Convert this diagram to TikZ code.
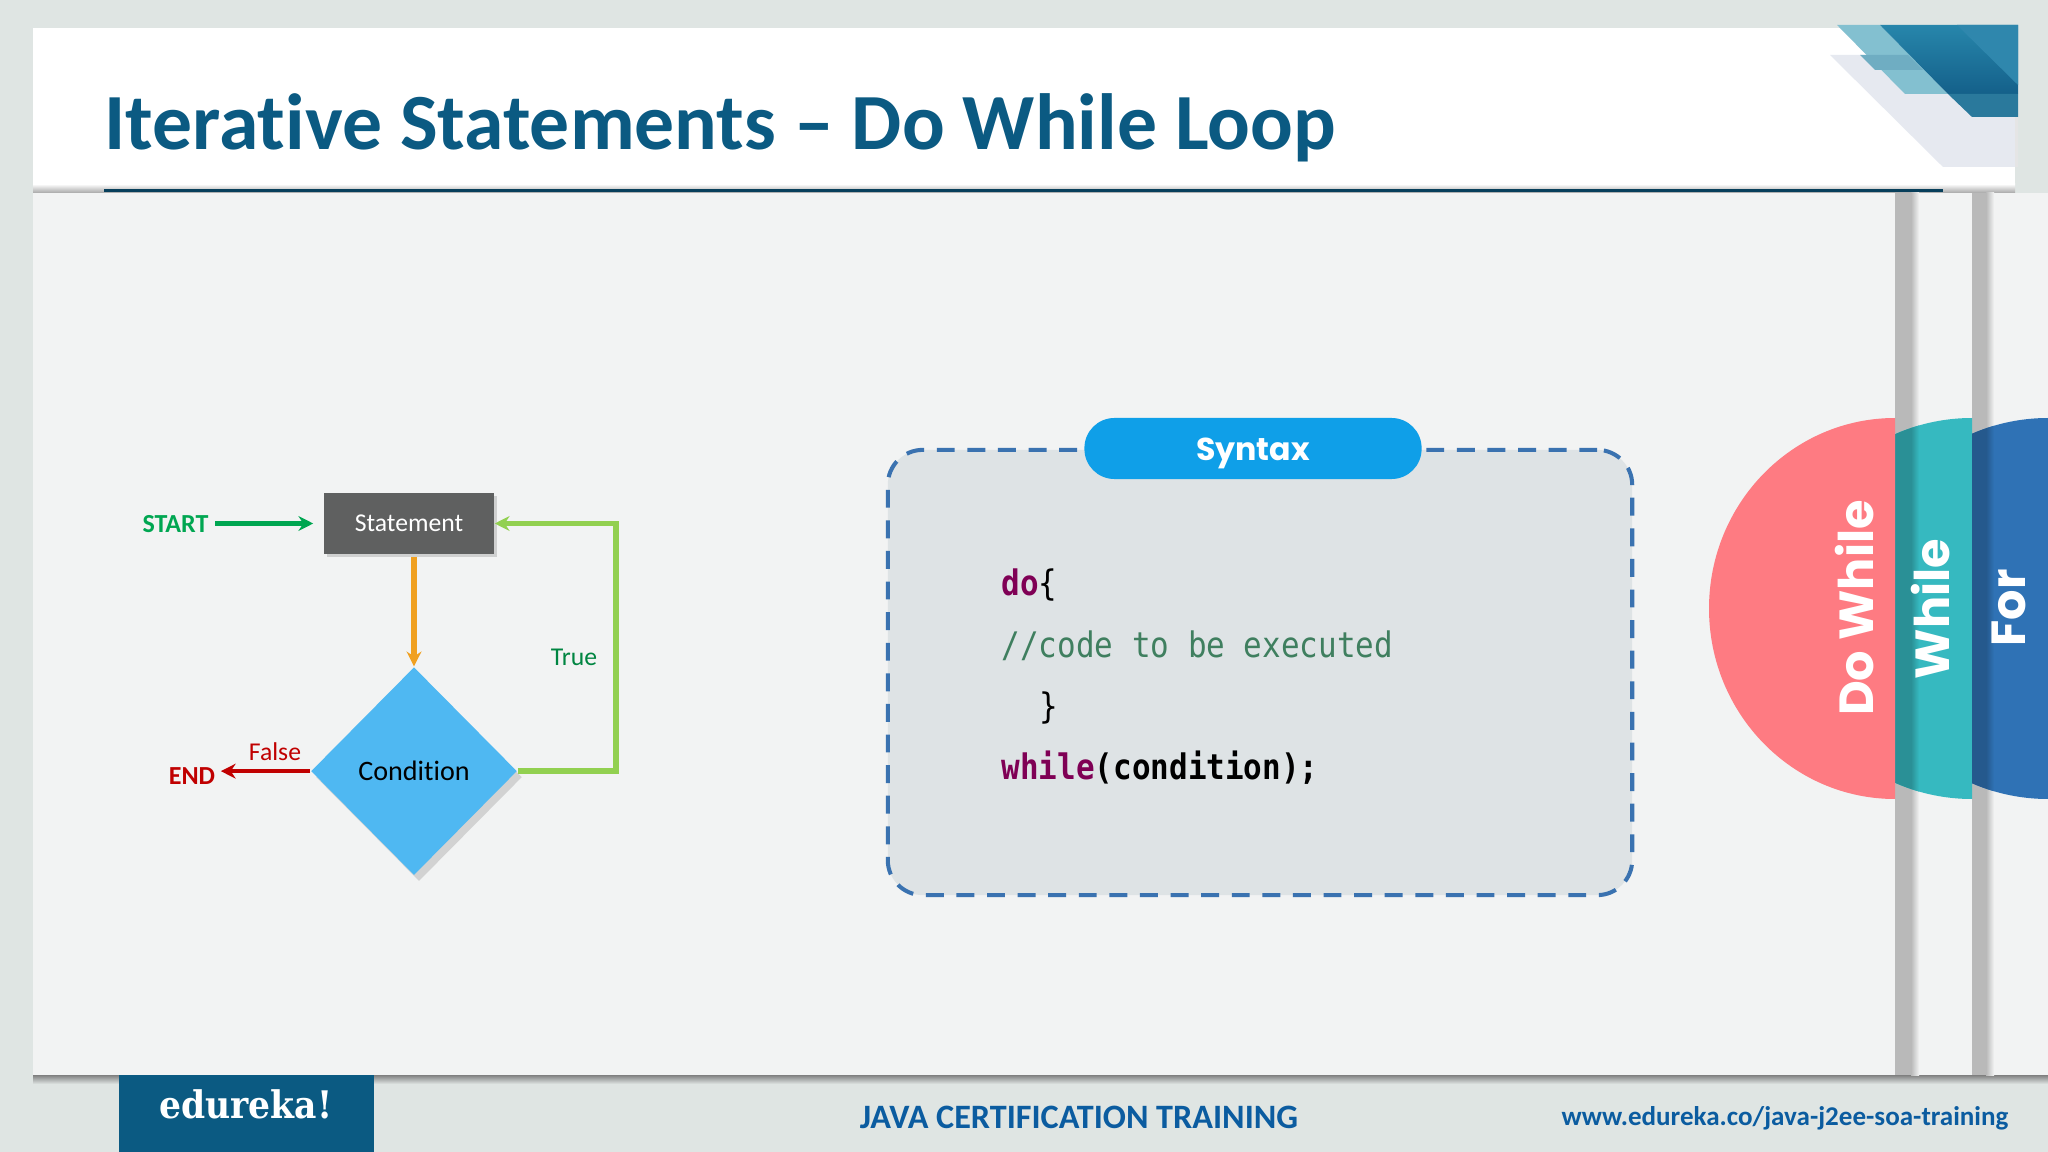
\documentclass[tikz,border=0pt]{standalone}
\usepackage{fontspec}
\setmainfont{Carlito}[Ligatures=NoCommon]
\newfontfamily\tabfont{Poppins}
\newfontfamily\codefont{DejaVu Sans Mono}[FakeStretch=0.88]
\newfontfamily\logofont{DejaVu Serif}[FakeStretch=0.91]
\usetikzlibrary{positioning}
\usetikzlibrary{shapes.geometric}
\usetikzlibrary{arrows.meta}
\usetikzlibrary{shadows}
\definecolor{pagebg}{HTML}{DFE5E3}
\definecolor{panelbg}{HTML}{F2F3F3}
\definecolor{titleblue}{HTML}{0B5A82}
\definecolor{startgreen}{HTML}{00A651}
\definecolor{truegreen}{HTML}{92D050}
\definecolor{endred}{HTML}{C00000}
\definecolor{loopblue}{HTML}{4FB8F2}
\definecolor{stmtgray}{HTML}{5F6060}
\definecolor{looporange}{HTML}{F0A020}
\definecolor{boxfill}{HTML}{DEE3E5}
\definecolor{boxdash}{HTML}{3A72B0}
\definecolor{pillblue}{HTML}{0F9FE8}
\definecolor{kwpurple}{HTML}{7F0055}
\definecolor{commentgreen}{HTML}{3F7F5F}
\definecolor{tabred}{HTML}{FE7B82}
\definecolor{tabteal}{HTML}{36B9C0}
\definecolor{tabblue}{HTML}{2F72B5}
\definecolor{footblue}{HTML}{0B5CA0}
\definecolor{bargray}{HTML}{B9B9B9}
\definecolor{cornergray}{HTML}{E6E9F0}
\definecolor{cornerlight}{HTML}{83C0D0}
\definecolor{cornermid}{HTML}{6FADC2}
\definecolor{cornerhigh}{HTML}{2786AB}
\definecolor{cornerlow}{HTML}{14608A}
\definecolor{cornerright}{HTML}{2F87AD}
\begin{document}
\begin{tikzpicture}[x=0.01cm,y=-0.01cm,>={Stealth[length=4.2pt,width=4.2pt]},node distance=2.475cm,
		line join=miter]
		\tikzstyle{flowarrow}=[->,line width=1.3pt]
		\tikzstyle{looparrow}=[->,line width=1.6pt]
		\tikzstyle{flowlabel}=[inner sep=0pt,font=\fontsize{7.3}{9}\selectfont]
		\tikzstyle{flowbold}=[inner sep=0pt,font=\fontsize{7.4}{9}\selectfont\bfseries]
		\tikzstyle{codeline}=[inner sep=0pt,anchor=base west,font=\fontsize{10}{12}\codefont]
		\tikzstyle{tablabel}=[inner sep=0pt,rotate=90,text=white,font=\fontsize{13.6}{16}\tabfont\bfseries]
		\tikzstyle{footlabel}=[inner sep=0pt,text=footblue,font=\fontsize{7.7}{10}\selectfont\bfseries]
		
		\useasboundingbox (0,0) rectangle (2048,1152);
		\fill[pagebg] (0,0) rectangle (2048,1152);
		\fill[white] (33,28) rectangle (2015,186);
		\shade[top color=white,bottom color=black!35] (33,184) rectangle (2015,193);
		\fill[panelbg] (33,193) rectangle (2048,1075);
		\shade[top color=black!50,bottom color=pagebg] (33,1075) rectangle (2048,1084);
		\fill[titleblue!70!black] (104,189.5) rectangle (1943,192.5);
		
		\fill[cornergray] (1830,55) -- (2018,55) -- (2018,167) -- (1943,167) -- cycle;
		\fill[black!10] (2015,117) rectangle (2018,167);
		\fill[cornerlight] (1837,25) -- (1880,25) -- (1948,94) -- (1905,94) -- cycle;
		\fill[cornermid] (1860,55) -- (1908,55) -- (1923,70) -- (1875,70) -- cycle;
		\shade[top color=cornerhigh,bottom color=cornerlow] (1880,25) -- (2018,25) -- (2018,94) -- (1948,94) -- cycle;
		\fill[cornerright] (1957,25) -- (2018,25) -- (2018,85) -- cycle;
		\fill[cornerright!90!black] (1948,94) -- (2018,94) -- (2018,117) -- (1972,117) -- cycle;
		
		\fill[bargray] (1895,193) rectangle (1911,1075);
		\shade[left color=bargray,right color=panelbg] (1911,193) rectangle (1919,1075);
		\fill[bargray] (1972,193) rectangle (1986,1075);
		\shade[left color=bargray,right color=panelbg] (1986,193) rectangle (1994,1075);
		
		\begin{scope}
			\clip (1895,193) rectangle (1972,1075);
			\fill[tabteal] (1972,608.5) circle (190.5);
			\clip (1972,608.5) circle (190.5);
			\fill[tabteal!78!black] (1895,410) rectangle (1911,810);
			\shade[left color=tabteal!78!black,right color=tabteal] (1911,410) rectangle (1919,810);
		\end{scope}
		\begin{scope}
			\clip (1972,193) rectangle (2048,1075);
			\fill[tabblue] (2048,608.5) circle (190.5);
			\clip (2048,608.5) circle (190.5);
			\fill[tabblue!78!black] (1972,410) rectangle (1986,810);
			\shade[left color=tabblue!78!black,right color=tabblue] (1986,410) rectangle (1994,810);
		\end{scope}
		\begin{scope}
			\clip (1700,193) rectangle (1895,1075);
			\fill[tabred] (1895,608.5) ellipse [x radius=186,y radius=190.5];
		\end{scope}
		
		\node[inner sep=0pt,anchor=base west,text=titleblue,font=\fontsize{22.65}{26}\selectfont\bfseries] (title) at (104,150) {Iterative Statements -- Do While Loop};
		
		\node[fill=stmtgray,text=white,minimum width=1.7cm,minimum height=0.6cm,inner sep=0pt,drop shadow={shadow xshift=0.03cm,shadow yshift=-0.03cm,opacity=0.3},font=\fontsize{7.3}{9}\selectfont] (statement) at (409,523.5) {Statement};
		\node[diamond,fill=loopblue,minimum width=2.06cm,minimum height=2.08cm,inner sep=0pt,drop shadow={shadow xshift=0.05cm,shadow yshift=-0.06cm,opacity=0.28},font=\fontsize{8}{10}\selectfont] (condition) [below of=statement,xshift=0.05cm] {Condition};
		\node[flowbold,text=startgreen] (start) at (175.5,524.5) {START};
		\node[flowbold,text=endred] (end) at (192,776) {END};
		\node[flowlabel,text=endred] (false) at (275,752) {False};
		\node[flowlabel,text=startgreen!80!black] (true) at (574,657) {True};
		\coordinate (looptop) at (616,523.5);
		
		\draw[flowarrow,startgreen] ([xshift=0.06cm,yshift=0.01cm]start.east) -- ([xshift=-0.1cm]statement.west);
		\draw[looparrow,looporange] ([yshift=-0.03cm]statement.south -| condition.north) -- (condition.north);
		\draw[looparrow,truegreen] (condition.east) -- (condition.east -| looptop) -- (looptop) -- (statement.east);
		\draw[flowarrow,endred] (condition.west) -- ([xshift=0.05cm]end.east |- condition.west);
		
		\node[rounded corners=0.35cm,fill=boxfill,draw=boxdash,line width=1.15pt,dash pattern=on 5.1pt off 3.6pt,minimum width=7.44cm,minimum height=4.45cm,inner sep=0pt] (syntaxbox) at (1260,672.5) {};
		\node[rounded corners=0.3cm,fill=pillblue,text=white,minimum width=3.37cm,minimum height=0.61cm,inner sep=0pt,text height=6.6pt,text depth=0pt,font=\fontsize{9}{11}\tabfont\bfseries] (syntax) at (1253,448.5) {Syntax};
		
		\node[codeline] (doline) at (1001,595) {\textcolor{kwpurple}{\bfseries do}\{};
		\node[codeline,text=commentgreen] (comment) at (1001,657) {//code to be executed};
		\node[codeline] (closeline) at (1039,718) {\}};
		\node[codeline] (whileline) at (1001,779) {\textcolor{kwpurple}{\bfseries while}\bfseries (condition);};
		
		\node[tablabel] (dowhile) at (1855,608) {Do While};
		\node[tablabel] (whiletab) at (1931,609) {While};
		\node[tablabel] (fortab) at (2009,608) {For};
		
		\fill[titleblue] (119,1075) rectangle (374,1152);
		\node[inner sep=0pt,text=white,font=\fontsize{10.8}{12}\logofont\bfseries] (logo) at (246,1104) {edureka!};
		\node[footlabel,font=\fontsize{9.72}{11}\selectfont\bfseries] (course) at (1079,1117) {JAVA CERTIFICATION TRAINING};
		\node[footlabel] (site) at (1785,1118) {www.edureka.co/java-j2ee-soa-training};
		\end{tikzpicture}
\end{document}
